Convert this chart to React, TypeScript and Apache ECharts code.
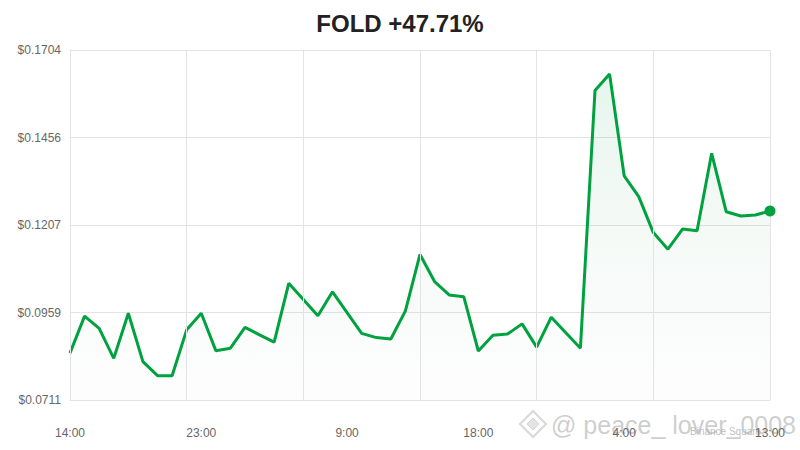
import React, { useEffect, useRef } from "react";
import * as echarts from "echarts";

const TITLE = "FOLD +47.71%";

const HOURS: string[] = [
  "14:00", "15:00", "16:00", "17:00", "18:00", "19:00", "20:00", "21:00", "22:00", "23:00",
  "0:00", "1:00", "2:00", "3:00", "4:00", "5:00", "6:00", "7:00", "8:00", "9:00",
  "10:00", "11:00", "12:00", "13:00", "14:00", "15:00", "16:00", "17:00", "18:00", "19:00",
  "20:00", "21:00", "22:00", "23:00", "0:00", "1:00", "2:00", "3:00", "4:00", "5:00",
  "6:00", "7:00", "8:00", "9:00", "10:00", "11:00", "12:00", "13:00", "13:00",
];

const PRICES: number[] = [
  0.0844, 0.0949, 0.0914, 0.0829, 0.0957, 0.0820, 0.0780, 0.0780, 0.0910, 0.0957,
  0.0851, 0.0858, 0.0917, 0.0896, 0.0875, 0.1042, 0.0996, 0.0950, 0.1018, 0.0959,
  0.0900, 0.0888, 0.0884, 0.0964, 0.1124, 0.1047, 0.1009, 0.1004, 0.0850, 0.0895,
  0.0898, 0.0927, 0.0861, 0.0946, 0.0902, 0.0858, 0.1589, 0.1636, 0.1347, 0.1288,
  0.1186, 0.1139, 0.1196, 0.1191, 0.1411, 0.1245, 0.1233, 0.1236, 0.1247,
];

const LABEL_INDEXES: number[] = [0, 9, 19, 28, 38, 48];

const Y_MIN = 0.0711;
const Y_MAX = 0.1704;
const Y_TICK_LABELS: string[] = ["$0.0711", "$0.0959", "$0.1207", "$0.1456", "$0.1704"];

export default function App() {
  const ref = useRef<HTMLDivElement | null>(null);

  useEffect(() => {
    if (!ref.current) return;
    const chart = echarts.init(ref.current, undefined, { renderer: "svg" });
    const step = (Y_MAX - Y_MIN) / (Y_TICK_LABELS.length - 1);
    const yTicks = Y_TICK_LABELS.map((_, i) => Y_MIN + i * step);
    const last = PRICES.length - 1;
    const font = "'Liberation Sans', Arial, Helvetica, sans-serif";

    chart.setOption({
      animation: false,
      backgroundColor: "#ffffff",
      textStyle: { fontFamily: font },
      title: {
        text: TITLE,
        left: "center",
        top: 6,
        textStyle: { fontSize: 24, fontWeight: "bold", color: "#222222", fontFamily: font },
      },
      grid: { left: 70, right: 30, top: 50, bottom: 50, containLabel: false },
      xAxis: {
        type: "category",
        data: HOURS,
        boundaryGap: false,
        axisLine: { show: false },
        axisTick: { show: false },
        axisLabel: {
          interval: (index: number) => LABEL_INDEXES.includes(index),
          color: "#666666",
          fontSize: 12,
          margin: 27,
          fontFamily: font,
        },
        splitLine: {
          show: true,
          interval: (index: number) => index % 8 === 0,
          lineStyle: { color: "#e3e3e3", width: 1 },
        },
        z: 5,
      },
      yAxis: {
        type: "value",
        min: Y_MIN,
        max: Y_MAX,
        axisLine: { show: false },
        axisTick: { show: false, customValues: yTicks },
        axisLabel: {
          customValues: yTicks,
          color: "#666666",
          fontSize: 12,
          margin: 9,
          fontFamily: font,
          formatter: (v: number) => {
            let best = 0;
            for (let i = 1; i < yTicks.length; i++) {
              if (Math.abs(yTicks[i] - v) < Math.abs(yTicks[best] - v)) best = i;
            }
            return Y_TICK_LABELS[best];
          },
        },
        splitLine: { show: true, lineStyle: { color: "#e3e3e3", width: 1 } },
      },
      graphic: [
        {
          type: "group",
          z: 1,
          silent: true,
          children: [
            {
              type: "polygon",
              shape: { points: [[533, 411], [546, 424], [533, 437], [520, 424]] },
              style: { fill: "none", stroke: "rgba(200,200,200,0.7)", lineWidth: 2 },
            },
            {
              type: "polygon",
              shape: { points: [[533, 418], [539, 424], [533, 430], [527, 424]] },
              style: { fill: "rgba(210,210,210,0.6)", stroke: "rgba(200,200,200,0.7)", lineWidth: 1 },
            },
            {
              type: "text",
              x: 551,
              y: 425,
              style: {
                text: "@ peace_ lover_0008",
                fontSize: 25,
                fontFamily: font,
                fill: "rgba(190,190,190,0.75)",
                stroke: "rgba(255,255,255,0.8)",
                lineWidth: 2,
                verticalAlign: "middle",
                align: "left",
              },
            },
            {
              type: "text",
              x: 690,
              y: 431,
              style: {
                text: "Binance Square",
                fontSize: 10,
                fontFamily: font,
                fill: "rgba(175,175,175,0.8)",
                verticalAlign: "middle",
                align: "left",
              },
            },
          ],
        },
      ],
      series: [
        {
          type: "line",
          data: PRICES,
          showSymbol: false,
          smooth: false,
          lineStyle: { color: "#00a23f", width: 3 },
          itemStyle: { color: "#00a23f" },
          areaStyle: {
            color: new echarts.graphic.LinearGradient(0, 0, 0, 1, [
              { offset: 0, color: "rgba(0,160,70,0.14)" },
              { offset: 1, color: "rgba(180,180,180,0.04)" },
            ]),
          },
          z: 3,
        },
        {
          type: "scatter",
          data: PRICES.map((v, i) => (i === last ? v : "-")),
          symbol: "circle",
          symbolSize: 11,
          clip: false,
          itemStyle: { color: "#00a23f", opacity: 1 },
          z: 10,
        },
      ],
    });

    return () => chart.dispose();
  }, []);

  return (
    <div
      ref={ref}
      style={{ position: "absolute", left: 0, top: 0, width: 800, height: 450 }}
    />
  );
}
